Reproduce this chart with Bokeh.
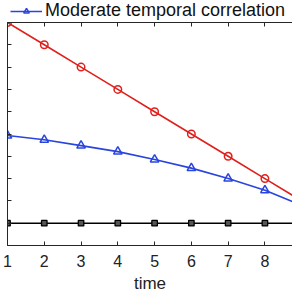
from bokeh.plotting import figure
from bokeh.layouts import column
from bokeh.models import Range1d, LinearAxis, Legend, LegendItem, FixedTicker
from bokeh.embed import file_html
from bokeh.resources import INLINE

time = [1, 2, 3, 4, 5, 6, 7, 8, 9]
red_vals = [1.0, 0.9, 0.8, 0.7, 0.6, 0.5, 0.4, 0.3, 0.2]
blue_vals = [0.493, 0.474, 0.448, 0.421, 0.386, 0.347, 0.300, 0.248, 0.18]
black_vals = [0.1, 0.1, 0.1, 0.1, 0.1, 0.1, 0.1, 0.1, 0.1]
legend_label = "Moderate temporal correlation"
x_ticks = [1, 2, 3, 4, 5, 6, 7, 8]
y_ticks = [0, 0.1, 0.2, 0.3, 0.4, 0.5, 0.6, 0.7, 0.8, 0.9, 1.0]

FONT = "Liberation Sans"
AX = "#262626"
RED = "#e0201c"
BLUE = "#2a45dd"

# ---- top strip holding the (cropped) legend; the series itself lies outside its view ----
top = figure(frame_width=292, frame_height=22, output_backend="svg", toolbar_location=None,
             x_range=Range1d(20, 21), y_range=Range1d(20, 21),
             min_border_left=0, min_border_right=0, min_border_top=0, min_border_bottom=0)
top.axis.visible = False
top.grid.visible = False
top.outline_line_color = None
tl = top.line(time, blue_vals, line_color=BLUE, line_width=1.6)
ts = top.scatter(time, blue_vals, marker="triangle", size=8.5, fill_color=None,
                 line_color=BLUE, line_width=1.5)
legend = Legend(items=[LegendItem(label=legend_label, renderers=[tl, ts])],
                label_text_font=FONT, label_text_font_size="18px", label_text_color="#111111",
                glyph_width=32, glyph_height=14, padding=0, margin=0, spacing=0,
                label_standoff=3, border_line_color=None, background_fill_alpha=0,
                location=(10, 1), label_height=16)
top.add_layout(legend, "center")

# ---- main plot ----
p = figure(frame_width=285, frame_height=223, output_backend="svg", toolbar_location=None,
           x_range=Range1d(1, 8.75), y_range=Range1d(0, 1.0),
           min_border_left=7, min_border_right=0, min_border_top=0, min_border_bottom=47)
p.grid.visible = False
p.outline_line_color = None
p.background_fill_color = "white"
p.border_fill_color = "white"

p.line(time, black_vals, line_color="black", line_width=1.6)
p.scatter(time[:8], black_vals[:8], marker="square", size=5.5, fill_color="#555555",
          line_color="black", line_width=1.3)
p.line(time, red_vals, line_color=RED, line_width=1.6)
p.scatter(time[:8], red_vals[:8], marker="circle", size=7.5, fill_color=None,
          line_color=RED, line_width=1.5)
p.line(time, blue_vals, line_color=BLUE, line_width=1.6)
p.scatter(time[:8], blue_vals[:8], marker="triangle", size=8.5, fill_color=None,
          line_color=BLUE, line_width=1.5)

xa = p.xaxis[0]
xa.ticker = FixedTicker(ticks=x_ticks)
xa.axis_label = "time"
xa.axis_label_text_font = FONT
xa.axis_label_text_font_size = "17px"
xa.axis_label_text_font_style = "normal"
xa.axis_label_text_color = "#222222"
xa.axis_label_standoff = 4
xa.major_label_text_font = FONT
xa.major_label_text_font_size = "16px"
xa.major_label_text_color = "#222222"
xa.major_label_standoff = 9
xa.major_tick_in = 4
xa.major_tick_out = 0
xa.minor_tick_line_color = None
xa.axis_line_color = AX
xa.major_tick_line_color = AX

ya = p.yaxis[0]
ya.ticker = FixedTicker(ticks=y_ticks)
ya.major_label_overrides = {t: "" for t in y_ticks}
ya.major_label_standoff = 0
ya.major_tick_in = 4
ya.major_tick_out = 0
ya.minor_tick_line_color = None
ya.axis_line_color = AX
ya.major_tick_line_color = AX

ta = LinearAxis(ticker=FixedTicker(ticks=x_ticks), major_label_standoff=0,
                major_tick_in=4, major_tick_out=0,
                minor_tick_line_color=None, axis_line_color=AX, major_tick_line_color=AX)
ta.major_label_overrides = {t: "" for t in x_ticks}
p.add_layout(ta, "above")

layout = column(top, p, spacing=0)
open("out.html", "w").write(file_html(layout, INLINE))
